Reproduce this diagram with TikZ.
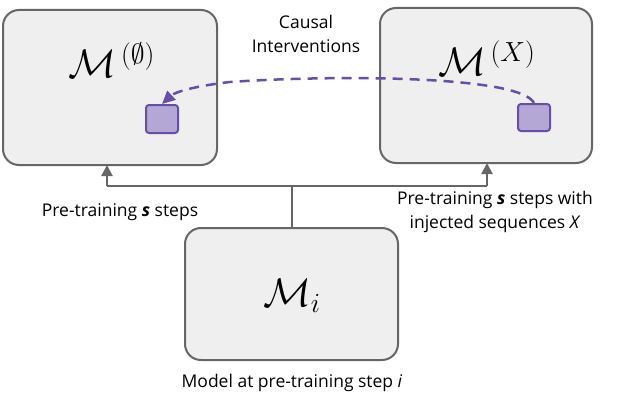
\documentclass[tikz,border=0pt]{standalone}
\usepackage{fontspec}
\setmainfont{Open Sans}
\usetikzlibrary{arrows.meta}
\definecolor{boxfill}{HTML}{EFEFEF}
\definecolor{boxline}{HTML}{666666}
\definecolor{pfill}{HTML}{B4A7D6}
\definecolor{pline}{HTML}{674EA7}
\begin{document}
\begin{tikzpicture}[x=1pt,y=-1pt,
  box/.style={draw=boxline,line width=2pt,fill=boxfill,rounded corners=16pt},
  sq/.style={draw=pline,line width=2pt,fill=pfill,rounded corners=3pt},
  lbl/.style={font=\fontsize{17.5}{24}\selectfont,align=center},
  big/.style={scale=1.6},
  arr/.style={draw=boxline,line width=2pt,-{Triangle[length=11pt,width=11pt]}}]
\useasboundingbox (0,0) rectangle (624,420);
\draw[box] (3,10) rectangle (217,165);
\draw[box] (380,8) rectangle (592,163);
\draw[box] (185,228) rectangle (398,360);
\node[big] (m0) at (112,60) {\fontsize{24}{24}\selectfont$\mathcal{M}^{\,(\emptyset)}$};
\node[big] (mx) at (487,58) {\fontsize{24}{24}\selectfont$\mathcal{M}^{\,(X)}$};
\node[big] (mi) at (292,296) {\fontsize{24}{24}\selectfont$\mathcal{M}_{i}$};
\draw[sq] (146,105) rectangle (178,133);
\draw[sq] (518,104) rectangle (550,131);
\coordinate (s0) at (162,104);
\coordinate (sx) at (534,103);
\draw[pline,line width=2.5pt,dash pattern=on 10pt off 7pt,-{Triangle[length=13pt,width=12pt]}] (sx) .. controls (520,75) and (330,75) .. (230,82) .. controls (195,86) and (175,92) .. (s0);
\coordinate (a0) at (107,165);
\coordinate (ax) at (487,163);
\coordinate (j0) at (107,186);
\coordinate (jx) at (487,186);
\coordinate (jc) at (292,186);
\coordinate (bc) at (292,228);
\draw[boxline,line width=2pt] (bc) -- (jc);
\draw[boxline,line width=2pt] (j0) -- (jx);
\draw[arr] (j0) -- (a0);
\draw[arr] (jx) -- (ax);
\node[lbl] (c) at (306,34) {Causal\\Interventions};
\node[lbl] (l1) at (120,212) {Pre-training \textbf{\textit{s}} steps};
\node[lbl] (l2) at (495,212) {Pre-training \textbf{\textit{s}} steps with\\injected sequences \textit{X}};
\node[lbl] (l3) at (292,383) {Model at pre-training step \textit{i}};
\end{tikzpicture}
\end{document}
